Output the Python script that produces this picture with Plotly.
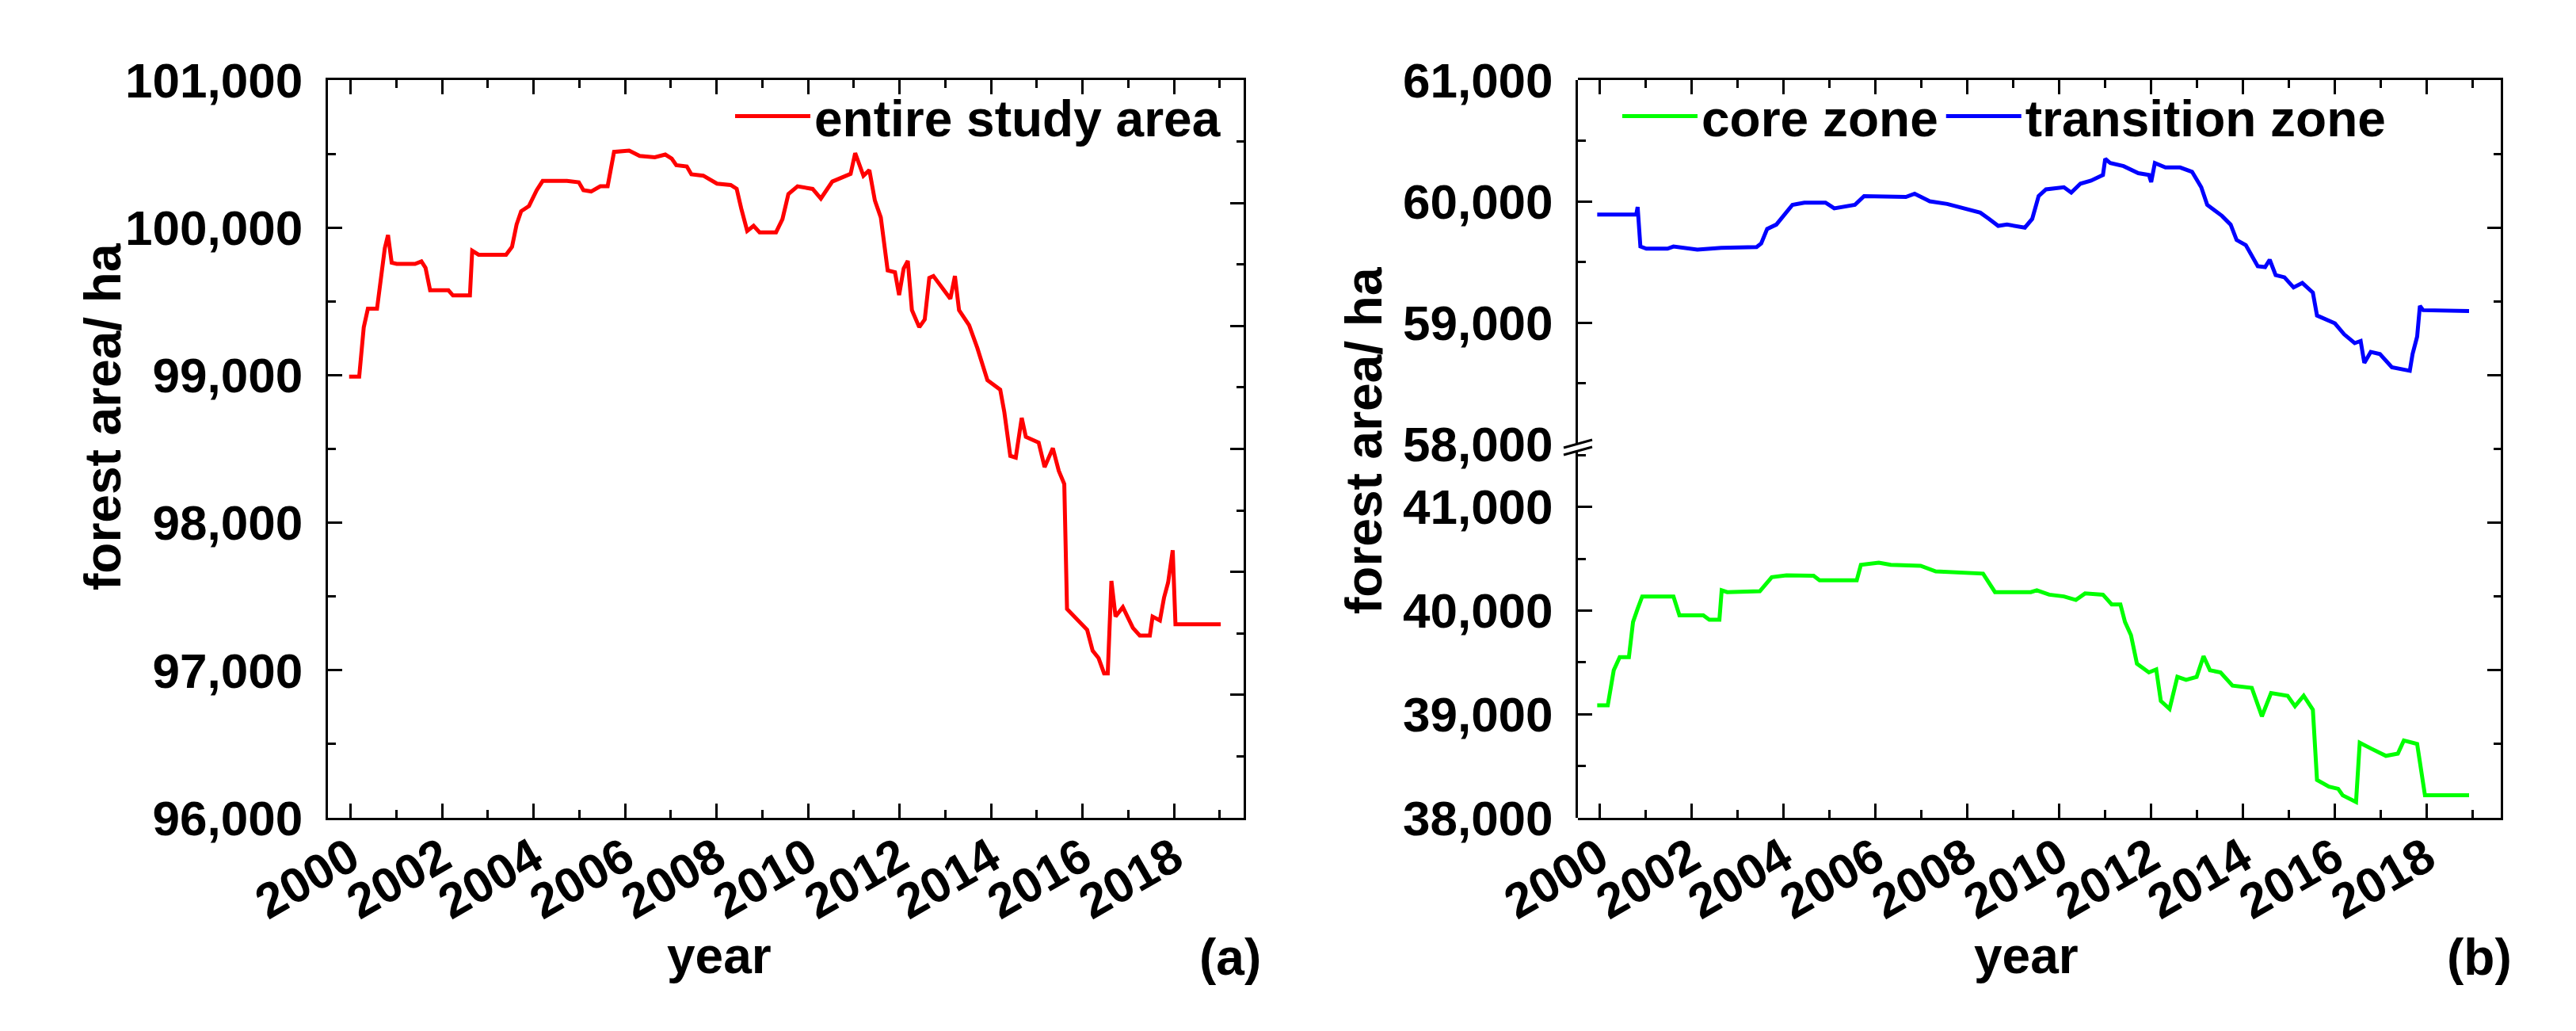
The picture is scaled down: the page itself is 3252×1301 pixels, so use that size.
import plotly.graph_objects as go

# ---------------- data ----------------
# Panel (a): entire study area
years_total = [1999.97, 2000.19, 2000.29, 2000.38, 2000.58, 2000.68, 2000.75, 2000.82, 2000.90, 2001.01,
               2001.41, 2001.55, 2001.64, 2001.74, 2002.14, 2002.24, 2002.61, 2002.66, 2002.80, 2003.40,
               2003.53, 2003.63, 2003.73, 2003.90, 2004.07, 2004.20, 2004.73, 2004.99, 2005.09, 2005.26,
               2005.46, 2005.62, 2005.76, 2006.09, 2006.32, 2006.65, 2006.88, 2007.02, 2007.12, 2007.35,
               2007.45, 2007.71, 2008.01, 2008.31, 2008.44, 2008.54, 2008.67, 2008.81, 2008.94, 2009.30,
               2009.44, 2009.57, 2009.77, 2010.10, 2010.28, 2010.53, 2010.72, 2010.93, 2011.03, 2011.12,
               2011.21, 2011.34, 2011.46, 2011.59, 2011.74, 2011.90, 2011.99, 2012.09, 2012.18, 2012.27,
               2012.43, 2012.55, 2012.65, 2012.74, 2013.02, 2013.11, 2013.21, 2013.30, 2013.52, 2013.70,
               2013.92, 2014.20, 2014.29, 2014.42, 2014.54, 2014.67, 2014.76, 2015.04, 2015.17, 2015.26,
               2015.35, 2015.48, 2015.60, 2015.66, 2015.85, 2016.10, 2016.22, 2016.35, 2016.47, 2016.55,
               2016.63, 2016.72, 2016.88, 2017.10, 2017.25, 2017.47, 2017.53, 2017.69, 2017.78, 2017.87,
               2017.97, 2018.03, 2019.02]
area_total = [98990, 98990, 99325, 99450, 99450, 99664, 99860, 99950, 99762, 99754,
              99754, 99771, 99727, 99575, 99575, 99540, 99540, 99843, 99816, 99816,
              99870, 100021, 100111, 100146, 100254, 100316, 100316, 100307, 100254, 100245,
              100280, 100280, 100513, 100522, 100486, 100477, 100495, 100468, 100423, 100414,
              100361, 100352, 100298, 100289, 100263, 100129, 99977, 100012, 99968, 99968,
              100057, 100227, 100280, 100262, 100197, 100312, 100338, 100364, 100505, 100428,
              100351, 100390, 100184, 100069, 99710, 99697, 99543, 99723, 99774, 99441,
              99325, 99377, 99659, 99672, 99556, 99518, 99672, 99441, 99338, 99184,
              98966, 98902, 98749, 98453, 98441, 98710, 98582, 98543, 98377, 98441,
              98505, 98351, 98262, 97415, 97351, 97274, 97133, 97082, 96979, 96979,
              97605, 97364, 97428, 97287, 97235, 97235, 97364, 97338, 97492, 97595,
              97814, 97312, 97312]

# Panel (b): core zone
years_core = [1999.95, 2000.18, 2000.31, 2000.44, 2000.64, 2000.73, 2000.83, 2000.93, 2001.61, 2001.74,
              2002.26, 2002.39, 2002.61, 2002.66, 2002.78, 2003.49, 2003.75, 2004.07, 2004.66, 2004.79,
              2005.60, 2005.69, 2006.08, 2006.34, 2006.99, 2007.32, 2008.35, 2008.48, 2008.61, 2009.39,
              2009.52, 2009.79, 2010.11, 2010.37, 2010.57, 2010.96, 2011.15, 2011.34, 2011.44, 2011.57,
              2011.70, 2011.96, 2012.12, 2012.22, 2012.41, 2012.58, 2012.77, 2013.00, 2013.15, 2013.29,
              2013.52, 2013.78, 2014.20, 2014.42, 2014.62, 2014.98, 2015.14, 2015.33, 2015.53, 2015.62,
              2015.88, 2016.08, 2016.18, 2016.47, 2016.55, 2016.79, 2017.12, 2017.38, 2017.51, 2017.80,
              2017.97, 2018.93]
area_core = [39085, 39085, 39424, 39551, 39551, 39890, 40017, 40136, 40136, 39953,
             39953, 39911, 39911, 40195, 40178, 40186, 40322, 40339, 40335, 40292,
             40292, 40441, 40462, 40441, 40432, 40377, 40356, 40271, 40178, 40178,
             40195, 40153, 40136, 40102, 40165, 40153, 40059, 40059, 39890, 39763,
             39487, 39403, 39432, 39127, 39051, 39360, 39331, 39360, 39559, 39424,
             39403, 39276, 39254, 38979, 39204, 39178, 39077, 39178, 39043, 38365,
             38301, 38280, 38217, 38153, 38725, 38670, 38598, 38619, 38746, 38713,
             38217, 38217]

# Panel (b): transition zone
years_trans = [1999.95, 2000.80, 2000.83, 2000.89, 2001.02, 2001.48, 2001.61, 2002.13, 2002.65, 2003.42,
               2003.52, 2003.65, 2003.85, 2004.01, 2004.20, 2004.46, 2004.92, 2005.11, 2005.56, 2005.76,
               2006.34, 2006.67, 2006.86, 2007.19, 2007.57, 2007.96, 2008.29, 2008.48, 2008.68, 2008.87,
               2009.26, 2009.42, 2009.56, 2009.72, 2010.11, 2010.27, 2010.47, 2010.70, 2010.83, 2010.96,
               2011.01, 2011.12, 2011.41, 2011.73, 2011.96, 2012.01, 2012.09, 2012.32, 2012.64, 2012.90,
               2013.10, 2013.23, 2013.55, 2013.74, 2013.87, 2014.07, 2014.33, 2014.49, 2014.59, 2014.72,
               2014.91, 2015.11, 2015.30, 2015.53, 2015.62, 2016.01, 2016.21, 2016.44, 2016.57, 2016.65,
               2016.79, 2016.99, 2017.25, 2017.64, 2017.70, 2017.80, 2017.86, 2017.93, 2018.93]
area_trans = [59891, 59891, 59953, 59627, 59609, 59609, 59627, 59602, 59616, 59623,
              59652, 59772, 59808, 59880, 59971, 59989, 59989, 59942, 59971, 60043,
              60036, 60036, 60062, 60000, 59978, 59935, 59906, 59855, 59797, 59808,
              59783, 59855, 60043, 60098, 60116, 60072, 60145, 60170, 60196, 60217,
              60351, 60315, 60290, 60232, 60217, 60159, 60315, 60279, 60279, 60243,
              60116, 59971, 59880, 59808, 59681, 59638, 59464, 59457, 59518, 59391,
              59373, 59290, 59326, 59247, 59058, 58993, 58903, 58830, 58848, 58667,
              58758, 58740, 58631, 58602, 58740, 58884, 59138, 59102, 59094]

name_total = "entire study area"
name_core = "core zone"
name_trans = "transition zone"
x_title = "year"
y_title = "forest area/ ha"

# ---------------- styling ----------------
W, H = 3252, 1301
FONT = "Arial, Liberation Sans, sans-serif"
TICKFONT = dict(family=FONT, size=62, color="black", weight="bold")
TITLEFONT = dict(family=FONT, size=64, color="black", weight="bold")

# plot-area geometry in pixels
TOP, BOTTOM = 93, 1024
PH = BOTTOM - TOP
def py(p):
    return (BOTTOM - p) / PH
def px(p):
    return p / W

base = dict(showline=True, linecolor="black", linewidth=3, ticks="inside", tickcolor="black",
            tickwidth=3, showgrid=False, zeroline=False, automargin=False, tickfont=TICKFONT)

xcommon = dict(base, dtick=2, tick0=2000, ticklen=18, tickangle=-30, mirror="ticks",
               ticklabelstandoff=-13,
               minor=dict(dtick=1, tick0=2000, ticklen=10, tickwidth=3, tickcolor="black",
                          ticks="inside", showgrid=False))
ycommon = dict(base, dtick=1000, ticklen=18, tickformat=",", mirror=False, ticklabelstandoff=16,
               minor=dict(dtick=500, ticklen=10, tickwidth=3, tickcolor="black",
                          ticks="inside", showgrid=False))
rcommon = dict(showline=True, linecolor="black", linewidth=3, ticks="inside", tickcolor="black",
               tickwidth=3, ticklen=17, dtick=2, tick0=0, showticklabels=False, showgrid=False,
               zeroline=False, automargin=False, side="right",
               minor=dict(dtick=1, ticklen=9, tickwidth=3, tickcolor="black", ticks="inside",
                          showgrid=False))

LW = 5
fig = go.Figure()
fig.add_trace(go.Scatter(x=years_total, y=area_total, mode="lines", name=name_total,
                         line=dict(color="#FF0000", width=LW), xaxis="x", yaxis="y", legend="legend"))
fig.add_trace(go.Scatter(x=years_core, y=area_core, mode="lines", name=name_core,
                         line=dict(color="#00FF00", width=LW), xaxis="x2", yaxis="y3", legend="legend2"))
fig.add_trace(go.Scatter(x=years_trans, y=area_trans, mode="lines", name=name_trans,
                         line=dict(color="#0000FF", width=LW), xaxis="x2", yaxis="y2", legend="legend2"))
# carriers for the independent right-hand tick axes (no data)
fig.add_trace(go.Scatter(x=[None], y=[None], xaxis="x", yaxis="y4", showlegend=False, hoverinfo="skip"))
fig.add_trace(go.Scatter(x=[None], y=[None], xaxis="x2", yaxis="y5", showlegend=False, hoverinfo="skip"))

fig.update_layout(
    width=W, height=H,
    margin=dict(l=0, r=0, t=TOP, b=H - BOTTOM, pad=0),
    paper_bgcolor="white", plot_bgcolor="rgba(0,0,0,0)",
    font=dict(family=FONT, color="black"),
    hovermode=False,
    xaxis=dict(xcommon, domain=[px(405.6), px(1562)], range=[1999.5, 2019.52], anchor="y"),
    yaxis=dict(ycommon, domain=[0, 1], range=[96000, 101000], anchor="x"),
    yaxis4=dict(rcommon, range=[0, 12], overlaying="y", anchor="x"),
    xaxis2=dict(xcommon, domain=[px(1984), px(3149)], range=[1999.53, 2019.62], anchor="y5"),
    yaxis2=dict(ycommon, domain=[py(552), 1], range=[58000, 61000], anchor="x2"),
    yaxis3=dict(ycommon, domain=[0, py(561)], range=[38000, 41540], anchor="x2"),
    yaxis5=dict(rcommon, domain=[0, 1], range=[0, 10], anchor="x2"),
    legend=dict(orientation="h", x=px(915), y=py(139), xanchor="left", yanchor="middle",
                font=TITLEFONT, bgcolor="rgba(0,0,0,0)", borderwidth=0, itemwidth=95,
                itemclick=False, itemdoubleclick=False),
    legend2=dict(orientation="h", x=px(2035), y=py(139), xanchor="left", yanchor="middle",
                 font=TITLEFONT, bgcolor="rgba(0,0,0,0)", borderwidth=0, itemwidth=95,
                 itemclick=False, itemdoubleclick=False, traceorder="normal"),
)

annotations = [
    dict(text=y_title, x=px(122), y=py(518), textangle=-90),
    dict(text=y_title, x=px(1714), y=py(548), textangle=-90),
    dict(text=x_title, x=px(900), y=py(1198)),
    dict(text=x_title, x=px(2550), y=py(1198)),
    dict(text="(a)", x=px(1545), y=py(1200)),
    dict(text="(b)", x=px(3122), y=py(1200)),
]
for a in annotations:
    fig.add_annotation(xref="paper", yref="paper", showarrow=False, xanchor="center",
                       yanchor="middle", font=TITLEFONT, **a)

# axis-break marks on the left axis of panel (b)
for (x0, y0, x1, y1) in [(1966, 557, 2002, 547), (1966, 566, 2002, 556)]:
    fig.add_shape(type="line", xref="paper", yref="paper", x0=px(x0), y0=py(y0), x1=px(x1), y1=py(y1),
                  line=dict(color="black", width=3))

fig.write_html("out.html")
